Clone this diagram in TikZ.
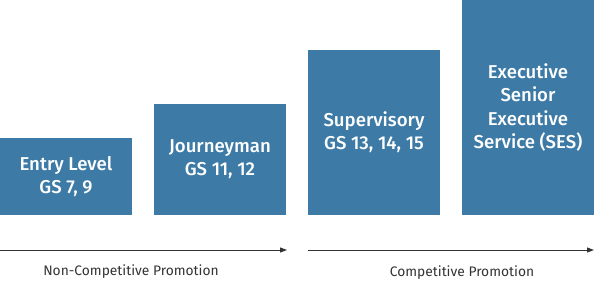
\documentclass[tikz,border=0pt]{standalone}
\usepackage{fontspec}
\setmainfont{Fira Sans}[BoldFont={Fira Sans Medium}]
\usetikzlibrary{arrows.meta}
\definecolor{boxblue}{HTML}{3D7BA6}
\definecolor{linegray}{HTML}{333333}
\begin{document}
\begin{tikzpicture}[x=1pt,y=-1pt,
  level/.style={fill=boxblue,draw=none,text=white,align=center,font=\bfseries\fontsize{18.6}{23.3}\selectfont,inner sep=0pt},
  promo/.style={draw=linegray,line width=1pt,-{Triangle[length=7pt,width=5pt]}},
  plabel/.style={text=linegray,font=\fontsize{13.8}{16}\selectfont,inner sep=0pt}]
\useasboundingbox (0,0) rectangle (600,292);
\fill[boxblue] (0,138) rectangle (132,215);
\fill[boxblue] (154,104) rectangle (286,215);
\fill[boxblue] (308,50) rectangle (440,215);
\fill[boxblue] (462,0) rectangle (594,215);
\node[level] (b1) at (66,176.5) {Entry Level\\GS 7, 9};
\node[level] (b2) at (220,159.5) {Journeyman\\GS 11, 12};
\node[level] (b3) at (374,132.5) {Supervisory\\GS 13, 14, 15};
\node[level] (b4) at (528,107.5) {Executive\\Senior\\Executive\\Service (SES)};
\coordinate (a1s) at (0,250);
\coordinate (a1e) at (287,250);
\coordinate (a2s) at (308,250);
\coordinate (a2e) at (594,250);
\draw[promo] (a1s) -- (a1e);
\draw[promo] (a2s) -- (a2e);
\node[plabel] (l1) at (131,272) {Non-Competitive Promotion};
\node[plabel] (l2) at (462,273) {Competitive Promotion};
\end{tikzpicture}
\end{document}
